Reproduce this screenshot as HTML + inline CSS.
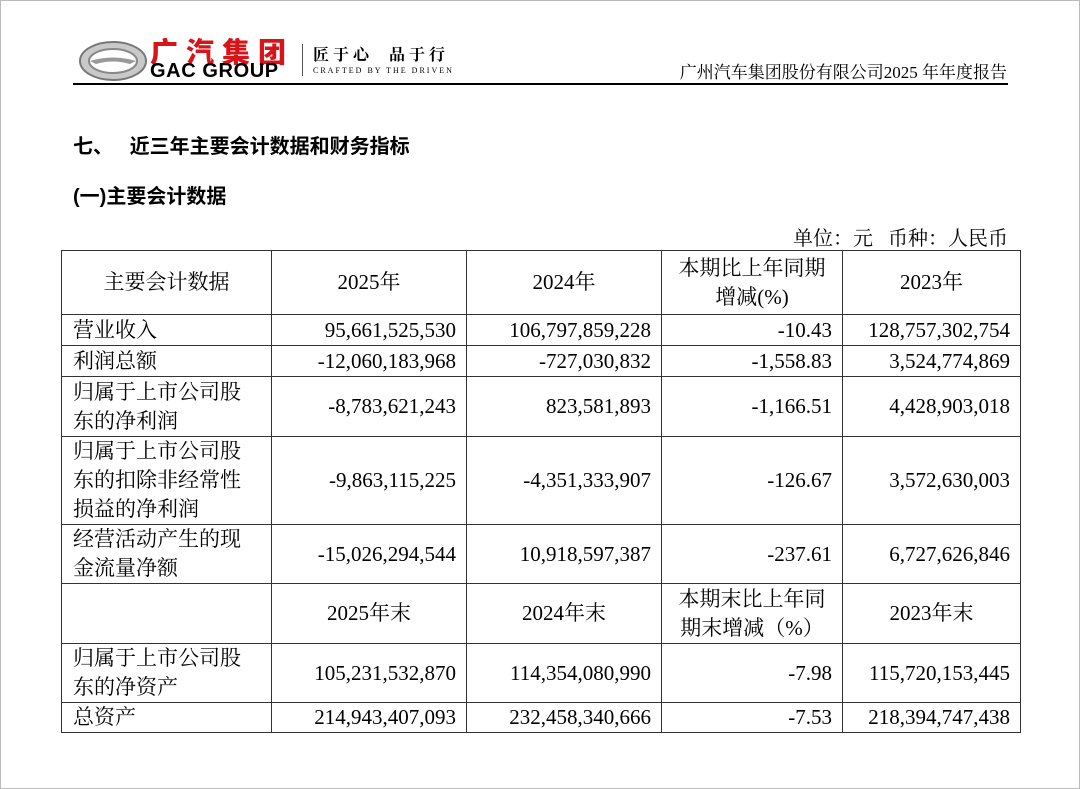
<!DOCTYPE html>
<html><head><meta charset="utf-8"><style>
body{margin:0;width:1080px;height:789px;background:#fff;position:relative;overflow:hidden;font-family:"Liberation Serif","Noto Serif CJK SC",serif;color:#000}
.a{position:absolute;white-space:nowrap}
table{position:absolute;left:61px;top:250px;border-collapse:collapse;table-layout:fixed;font-size:21px}
td{border:1.3px solid #333;padding:0 10px;line-height:29px;vertical-align:middle;text-align:right}
td.l{text-align:left;padding-left:11px}
td.c{text-align:center}
</style></head><body>
<div style="position:absolute;left:0;top:0;width:1078px;height:787px;border:1px solid #bbb"></div>
<svg class="a" style="left:78px;top:40px" width="70" height="42" viewBox="0 0 70 42">
<ellipse cx="35" cy="21" rx="33" ry="19" fill="#c9c9c9" stroke="#777" stroke-width="2"/>
<ellipse cx="35" cy="21" rx="24" ry="12" fill="#fff" stroke="#888" stroke-width="2"/>
<path d="M12 21 Q35 14 58 21 L52 24 Q35 19 18 24Z" fill="#999"/>
</svg>
<div class="a" style="left:150px;top:37px;font:900 28px 'Noto Sans CJK SC',sans-serif;color:#d7141a;line-height:28px;letter-spacing:8px">广汽集团</div>
<div class="a" style="left:150px;top:61px;font:bold 20px 'Liberation Sans',sans-serif;line-height:20px;letter-spacing:0.6px">GAC GROUP</div>
<div class="a" style="left:302px;top:44px;width:1px;height:32px;background:#555"></div>
<div class="a" style="left:313px;top:42px;font:bold 16px 'Noto Serif CJK SC',serif;letter-spacing:4px">匠于心&nbsp;&nbsp;品于行</div>
<div class="a" style="left:313px;top:66px;font:8px 'Liberation Serif',serif;letter-spacing:2px">CRAFTED BY THE DRIVEN</div>
<div class="a" style="right:73px;top:58px;font-size:17px;font-family:'Liberation Serif','Noto Serif CJK SC',serif">广州汽车集团股份有限公司2025 年年度报告</div>
<div class="a" style="left:73px;top:83px;width:935px;height:1.5px;background:#000"></div>
<div class="a" style="left:73px;top:130px;font-size:20px;font-weight:bold;font-family:'Liberation Sans','Noto Sans CJK SC',sans-serif">七、&nbsp;&nbsp; 近三年主要会计数据和财务指标</div>
<div class="a" style="left:73px;top:180px;font-size:20px;font-weight:bold;font-family:'Liberation Sans','Noto Sans CJK SC',sans-serif">(一)主要会计数据</div>
<div class="a" style="right:72px;top:222px;font-size:20px">单位：元&nbsp;&nbsp; 币种：人民币</div>
<table>
<colgroup><col style="width:210px"><col style="width:195px"><col style="width:195px"><col style="width:181px"><col style="width:178px"></colgroup>
<tr style="height:64px"><td class="c">主要会计数据</td><td class="c">2025年</td><td class="c">2024年</td><td class="c">本期比上年同期增减(%)</td><td class="c">2023年</td></tr>
<tr style="height:31px"><td class="l">营业收入</td><td>95,661,525,530</td><td>106,797,859,228</td><td>-10.43</td><td>128,757,302,754</td></tr>
<tr style="height:31px"><td class="l">利润总额</td><td>-12,060,183,968</td><td>-727,030,832</td><td>-1,558.83</td><td>3,524,774,869</td></tr>
<tr style="height:60px"><td class="l">归属于上市公司股东的净利润</td><td>-8,783,621,243</td><td>823,581,893</td><td>-1,166.51</td><td>4,428,903,018</td></tr>
<tr style="height:86px"><td class="l">归属于上市公司股东的扣除非经常性损益的净利润</td><td>-9,863,115,225</td><td>-4,351,333,907</td><td>-126.67</td><td>3,572,630,003</td></tr>
<tr style="height:59px"><td class="l">经营活动产生的现金流量净额</td><td>-15,026,294,544</td><td>10,918,597,387</td><td>-237.61</td><td>6,727,626,846</td></tr>
<tr style="height:60px"><td></td><td class="c">2025年末</td><td class="c">2024年末</td><td class="c">本期末比上年同期末增减（%）</td><td class="c">2023年末</td></tr>
<tr style="height:57px"><td class="l">归属于上市公司股东的净资产</td><td>105,231,532,870</td><td>114,354,080,990</td><td>-7.98</td><td>115,720,153,445</td></tr>
<tr style="height:29px"><td class="l">总资产</td><td>214,943,407,093</td><td>232,458,340,666</td><td>-7.53</td><td>218,394,747,438</td></tr>
</table>
</body></html>
